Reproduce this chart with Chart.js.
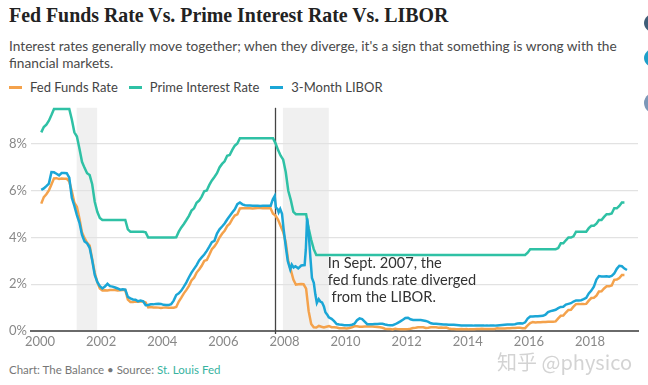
<!DOCTYPE html>
<html>
<head>
<meta charset="utf-8">
<script src="https://cdn.jsdelivr.net/npm/chart.js@4.4.1/dist/chart.umd.min.js"></script>
<style>
  html, body { margin: 0; padding: 0; background: #fff; }
  body { width: 648px; height: 385px; position: relative; overflow: hidden; font-family: Lato, sans-serif; }
  #title { position: absolute; left: 9px; top: 3px; font-family: "Liberation Serif", serif; font-weight: bold; font-size: 21px; color: #222; white-space: nowrap; transform-origin: 0 0; }
  #subtitle { position: absolute; left: 9px; top: 37px; font-size: 13.7px; line-height: 17px; color: #4a4a4a; white-space: nowrap; }
  #legend { position: absolute; left: 9px; top: 79px; font-size: 13px; color: #444; white-space: nowrap; }
  #legend span.item { display: inline-block; margin-right: 11px; }
  #legend span.swatch { display: inline-block; width: 13px; height: 3px; vertical-align: middle; margin-right: 8px; position: relative; top: -1px; }
  #wrap { position: absolute; left: 0; top: 96px; width: 648px; height: 257px; }
  #footer { position: absolute; left: 9px; top: 363px; font-size: 11.5px; color: #777; white-space: nowrap; }
  #footer .src { color: #37b3a0; }
  #mark { position: absolute; left: 497px; top: 347px; font-family: "Noto Sans CJK SC", sans-serif; font-size: 20px; color: rgba(175,175,175,0.55); white-space: nowrap; }
  .dot { position: absolute; left: 644px; width: 30px; border-radius: 50%; }
</style>
</head>
<body>
<div id="title">Fed Funds Rate Vs. Prime Interest Rate Vs. LIBOR</div>
<div id="subtitle">Interest rates generally move together; when they diverge, it's a sign that something is wrong with the<br>financial markets.</div>
<div id="legend"></div>
<div id="wrap"><canvas id="rateChart"></canvas></div>
<div id="footer">Chart: The Balance • Source: <span class="src">St. Louis Fed</span></div>
<div id="mark">知乎 @physico</div>
<div class="dot" style="top:12px;height:22px;background:#3f5d78;"></div>
<div class="dot" style="top:47px;height:22px;background:#1e9fc9;"></div>
<div class="dot" style="top:91px;height:24px;background:#7c97b8;"></div>
<script>
// monthly values, Jan 2000 .. Feb 2019
const fedFunds = [
    5.45, 5.73, 5.85, 6.02, 6.27, 6.53, 6.54, 6.50, 6.52, 6.51, 6.51, 6.40,
    5.98, 5.49, 5.31, 4.80, 4.21, 3.97, 3.77, 3.65, 3.07, 2.49, 2.09, 1.82,
    1.73, 1.74, 1.73, 1.75, 1.75, 1.75, 1.73, 1.74, 1.75, 1.75, 1.34, 1.24,
    1.24, 1.26, 1.25, 1.26, 1.26, 1.22, 1.01, 1.03, 1.01, 1.01, 1.00, 0.98,
    1.00, 1.01, 1.00, 1.00, 1.00, 1.03, 1.26, 1.43, 1.61, 1.76, 1.93, 2.16,
    2.28, 2.50, 2.63, 2.79, 3.00, 3.04, 3.26, 3.50, 3.62, 3.78, 4.00, 4.16,
    4.29, 4.49, 4.59, 4.79, 4.94, 4.99, 5.24, 5.25, 5.25, 5.25, 5.25, 5.24,
    5.25, 5.26, 5.26, 5.25, 5.25, 5.25, 5.26, 5.02, 4.94, 4.76, 4.49, 4.24,
    3.80, 2.98, 2.61, 2.20, 1.98, 2.00, 2.01, 2.00, 1.81, 0.85, 0.30, 0.16,
    0.15, 0.22, 0.18, 0.15, 0.18, 0.21, 0.16, 0.16, 0.15, 0.12, 0.12, 0.12,
    0.11, 0.13, 0.16, 0.20, 0.20, 0.18, 0.18, 0.19, 0.19, 0.19, 0.19, 0.18,
    0.17, 0.16, 0.14, 0.10, 0.09, 0.09, 0.07, 0.10, 0.08, 0.07, 0.08, 0.07,
    0.08, 0.10, 0.13, 0.14, 0.16, 0.16, 0.16, 0.13, 0.14, 0.16, 0.16, 0.16,
    0.14, 0.15, 0.14, 0.15, 0.11, 0.09, 0.09, 0.08, 0.08, 0.09, 0.08, 0.09,
    0.07, 0.07, 0.08, 0.09, 0.09, 0.10, 0.09, 0.09, 0.09, 0.09, 0.09, 0.12,
    0.11, 0.11, 0.11, 0.12, 0.12, 0.13, 0.13, 0.14, 0.14, 0.12, 0.12, 0.24,
    0.34, 0.38, 0.36, 0.37, 0.37, 0.38, 0.39, 0.40, 0.40, 0.40, 0.41, 0.54,
    0.65, 0.66, 0.79, 0.90, 0.91, 1.04, 1.15, 1.16, 1.15, 1.15, 1.16, 1.30,
    1.41, 1.42, 1.51, 1.69, 1.70, 1.82, 1.91, 1.91, 1.95, 2.19, 2.20, 2.27,
    2.40, 2.40
];

const primeRate = [
    8.50, 8.73, 8.83, 9.00, 9.24, 9.50, 9.50, 9.50, 9.50, 9.50, 9.50, 9.50,
    9.05, 8.50, 8.32, 7.80, 7.24, 6.98, 6.75, 6.67, 6.28, 5.53, 5.10, 4.84,
    4.75, 4.75, 4.75, 4.75, 4.75, 4.75, 4.75, 4.75, 4.75, 4.75, 4.35, 4.25,
    4.25, 4.25, 4.25, 4.25, 4.25, 4.22, 4.00, 4.00, 4.00, 4.00, 4.00, 4.00,
    4.00, 4.00, 4.00, 4.00, 4.00, 4.01, 4.25, 4.43, 4.58, 4.75, 4.93, 5.15,
    5.25, 5.49, 5.58, 5.75, 5.98, 6.01, 6.25, 6.44, 6.59, 6.75, 7.00, 7.15,
    7.26, 7.50, 7.53, 7.75, 7.93, 8.02, 8.25, 8.25, 8.25, 8.25, 8.25, 8.25,
    8.25, 8.25, 8.25, 8.25, 8.25, 8.25, 8.25, 8.25, 8.03, 7.74, 7.50, 7.33,
    6.80, 6.00, 5.60, 5.10, 5.00, 5.00, 5.00, 5.00, 5.00, 4.40, 3.90, 3.50,
    3.25, 3.25, 3.25, 3.25, 3.25, 3.25, 3.25, 3.25, 3.25, 3.25, 3.25, 3.25,
    3.25, 3.25, 3.25, 3.25, 3.25, 3.25, 3.25, 3.25, 3.25, 3.25, 3.25, 3.25,
    3.25, 3.25, 3.25, 3.25, 3.25, 3.25, 3.25, 3.25, 3.25, 3.25, 3.25, 3.25,
    3.25, 3.25, 3.25, 3.25, 3.25, 3.25, 3.25, 3.25, 3.25, 3.25, 3.25, 3.25,
    3.25, 3.25, 3.25, 3.25, 3.25, 3.25, 3.25, 3.25, 3.25, 3.25, 3.25, 3.25,
    3.25, 3.25, 3.25, 3.25, 3.25, 3.25, 3.25, 3.25, 3.25, 3.25, 3.25, 3.25,
    3.25, 3.25, 3.25, 3.25, 3.25, 3.25, 3.25, 3.25, 3.25, 3.25, 3.25, 3.35,
    3.50, 3.50, 3.50, 3.50, 3.50, 3.50, 3.50, 3.50, 3.50, 3.50, 3.50, 3.55,
    3.75, 3.75, 3.88, 4.00, 4.00, 4.05, 4.25, 4.25, 4.25, 4.25, 4.25, 4.40,
    4.50, 4.50, 4.59, 4.75, 4.75, 4.88, 5.00, 5.00, 5.03, 5.25, 5.25, 5.35,
    5.50, 5.50
];

// monthly values, Jan 2000 .. Mar 2019
const liborMonthly = [
    6.04, 6.10, 6.20, 6.31, 6.80, 6.79, 6.73, 6.66, 6.76, 6.76, 6.75, 6.56,
    5.70, 5.35, 4.96, 4.63, 4.11, 3.83, 3.75, 3.56, 3.03, 2.40, 2.10, 1.92,
    1.82, 1.90, 2.02, 1.92, 1.90, 1.86, 1.82, 1.77, 1.79, 1.77, 1.46, 1.40,
    1.35, 1.34, 1.27, 1.30, 1.27, 1.10, 1.11, 1.14, 1.14, 1.16, 1.17, 1.16,
    1.12, 1.11, 1.11, 1.15, 1.30, 1.54, 1.61, 1.73, 1.90, 2.08, 2.30, 2.50,
    2.66, 2.82, 3.02, 3.15, 3.27, 3.43, 3.61, 3.80, 3.86, 4.17, 4.35, 4.47,
    4.60, 4.77, 4.92, 5.07, 5.21, 5.43, 5.50, 5.42, 5.38, 5.37, 5.37, 5.36,
    5.36, 5.36, 5.35, 5.36, 5.36, 5.36, 5.36, 5.48, 5.49, 5.15, 4.96, 4.97,
    3.92, 3.09, 2.78, 2.79, 2.69, 2.77, 2.79, 2.81, 3.12, 4.06, 2.28, 1.83,
    1.21, 1.24, 1.27, 1.11, 0.82, 0.65, 0.52, 0.42, 0.30, 0.28, 0.27, 0.25,
    0.25, 0.25, 0.27, 0.31, 0.46, 0.54, 0.51, 0.40, 0.29, 0.29, 0.29, 0.30,
    0.30, 0.31, 0.31, 0.28, 0.26, 0.25, 0.25, 0.29, 0.35, 0.41, 0.48, 0.56,
    0.57, 0.50, 0.47, 0.47, 0.47, 0.47, 0.45, 0.43, 0.39, 0.33, 0.31, 0.31,
    0.30, 0.29, 0.28, 0.28, 0.27, 0.27, 0.27, 0.26, 0.25, 0.24, 0.24, 0.24,
    0.24, 0.24, 0.23, 0.23, 0.23, 0.23, 0.23, 0.24, 0.23, 0.23, 0.23, 0.24,
    0.25, 0.26, 0.27, 0.28, 0.28, 0.28, 0.29, 0.32, 0.33, 0.32, 0.37, 0.53,
    0.62, 0.62, 0.63, 0.63, 0.64, 0.65, 0.70, 0.81, 0.85, 0.88, 0.91, 0.98,
    1.03, 1.04, 1.13, 1.16, 1.19, 1.26, 1.31, 1.31, 1.32, 1.36, 1.42, 1.61,
    1.73, 1.90, 2.20, 2.35, 2.33, 2.33, 2.34, 2.32, 2.36, 2.46, 2.66, 2.79,
    2.77, 2.67, 2.61
];

// finer LIBOR readings through the 2007-2009 crunch: [year, rate]
const liborCrisis = [
    [2007.45, 5.36], [2007.55, 5.36], [2007.62, 5.64], [2007.68, 5.78], [2007.72, 5.29],
    [2007.78, 5.20], [2007.81, 5.08], [2007.86, 5.22], [2007.92, 5.01], [2007.97, 4.38],
    [2008.05, 3.54], [2008.11, 2.98], [2008.19, 2.63], [2008.24, 2.84], [2008.30, 2.72],
    [2008.36, 2.77], [2008.45, 2.68], [2008.55, 2.80], [2008.66, 2.82], [2008.70, 3.50],
    [2008.74, 4.82], [2008.79, 4.24], [2008.85, 3.12], [2008.90, 2.27], [2008.96, 2.06],
    [2009.01, 1.57], [2009.06, 1.20], [2009.12, 1.36], [2009.18, 1.25], [2009.23, 1.22],
    [2009.29, 1.05], [2009.34, 0.80], [2009.40, 0.70], [2009.45, 0.59]
];

const seriesNames = ['Fed Funds Rate', 'Prime Interest Rate', '3-Month LIBOR'];
const seriesColors = ['#f4a24c', '#2fc1a5', '#1ba6d6'];
const yearTicks = [2000, 2002, 2004, 2006, 2008, 2010, 2012, 2014, 2016, 2018];
const percentTicks = [0, 2, 4, 6, 8];
const recessions = [[2001.20, 2001.87], [2007.95, 2009.45]];
const divergeYear = 2007.69;
const noteLines = ['In Sept. 2007, the', 'fed funds rate diverged', ' from the LIBOR.'];
const noteAt = [2009.42, 2.9];

function monthlyPoints(values) {
    return values.map((v, i) => ({ x: 2000 + (i + 0.5) / 12, y: v }));
}

let liborPoints = monthlyPoints(liborMonthly).filter(p => p.x < 2007.45 || p.x > 2009.5);
liborCrisis.forEach(p => liborPoints.push({ x: p[0], y: p[1] }));
liborPoints.sort((a, b) => a.x - b.x);

// html legend
const legendEl = document.getElementById('legend');
seriesNames.forEach((name, i) => {
    legendEl.innerHTML += '<span class="item"><span class="swatch" style="background:' + seriesColors[i] + '"></span>' + name + '</span>';
});

// squeeze the serif title to the width it has in the reference
const titleEl = document.getElementById('title');
titleEl.style.transform = 'scaleX(' + (439 / titleEl.offsetWidth) + ')';

const overlay = {
    id: 'overlay',
    beforeDraw(chart) {
        const { ctx, chartArea, scales } = chart;
        ctx.save();
        ctx.fillStyle = '#f0f0f0';
        recessions.forEach(r => {
            const x0 = scales.x.getPixelForValue(r[0]);
            const x1 = scales.x.getPixelForValue(r[1]);
            ctx.fillRect(x0, chartArea.top, x1 - x0, chartArea.bottom - chartArea.top);
        });
        ctx.restore();
    },
    beforeDatasetsDraw(chart) {
        const { ctx, chartArea, scales } = chart;
        const x = Math.round(scales.x.getPixelForValue(divergeYear)) + 0.5;
        ctx.save();
        ctx.strokeStyle = '#444';
        ctx.lineWidth = 1.3;
        ctx.beginPath();
        ctx.moveTo(x, chartArea.top);
        ctx.lineTo(x, chartArea.bottom + 3);
        ctx.stroke();
        ctx.restore();
    },
    afterDatasetsDraw(chart) {
        const { ctx, scales } = chart;
        const x = scales.x.getPixelForValue(noteAt[0]);
        const y = scales.y.getPixelForValue(noteAt[1]);
        ctx.save();
        ctx.font = '14.6px Lato';
        ctx.fillStyle = '#333';
        ctx.textBaseline = 'middle';
        noteLines.forEach((line, i) => ctx.fillText(line, x, y + i * 17));
        ctx.restore();
    }
};

const lineStyle = {
    fill: false,
    borderWidth: 2.5,
    pointRadius: 0,
    tension: 0,
    clip: false,
};

new Chart(document.getElementById('rateChart'), {
    type: 'line',
    data: {
        datasets: [{
            ...lineStyle,
            label: seriesNames[0],
            data: monthlyPoints(fedFunds),
            borderColor: seriesColors[0],
            order: 2,
        }, {
            ...lineStyle,
            label: seriesNames[1],
            data: monthlyPoints(primeRate),
            borderColor: seriesColors[1],
            order: 1,
        }, {
            ...lineStyle,
            label: seriesNames[2],
            data: liborPoints,
            borderColor: seriesColors[2],
            order: 0,
        }]
    },
    options: {
        responsive: true,
        maintainAspectRatio: false,
        animation: false,
        layout: {
            padding: { top: 8, right: 10, left: 0, bottom: 0 }
        },
        plugins: {
            legend: { display: false },
            tooltip: { enabled: false },
        },
        scales: {
            x: {
                type: 'linear',
                min: 1999.706,
                max: 2019.569,
                afterBuildTicks: scale => { scale.ticks = yearTicks.map(v => ({ value: v })); },
                afterFit: scale => { scale.height = 22; },
                ticks: {
                    color: '#888',
                    font: { family: 'Lato', size: 13 },
                    padding: 3,
                    maxRotation: 0,
                    callback: v => String(v),
                },
                grid: { display: false, drawTicks: false },
                border: { display: true, color: '#6a6a6a', width: 2 },
            },
            y: {
                min: 0,
                max: 9.55,
                afterBuildTicks: scale => { scale.ticks = percentTicks.map(v => ({ value: v })); },
                afterFit: scale => { scale.width = 31; },
                ticks: {
                    color: '#888',
                    font: { family: 'Lato', size: 13 },
                    padding: 4,
                    callback: v => v + '%',
                },
                grid: { color: '#e2e2e2', lineWidth: 1.2, drawTicks: false },
                border: { display: false },
            }
        }
    },
    plugins: [overlay]
});
</script>
</body>
</html>
